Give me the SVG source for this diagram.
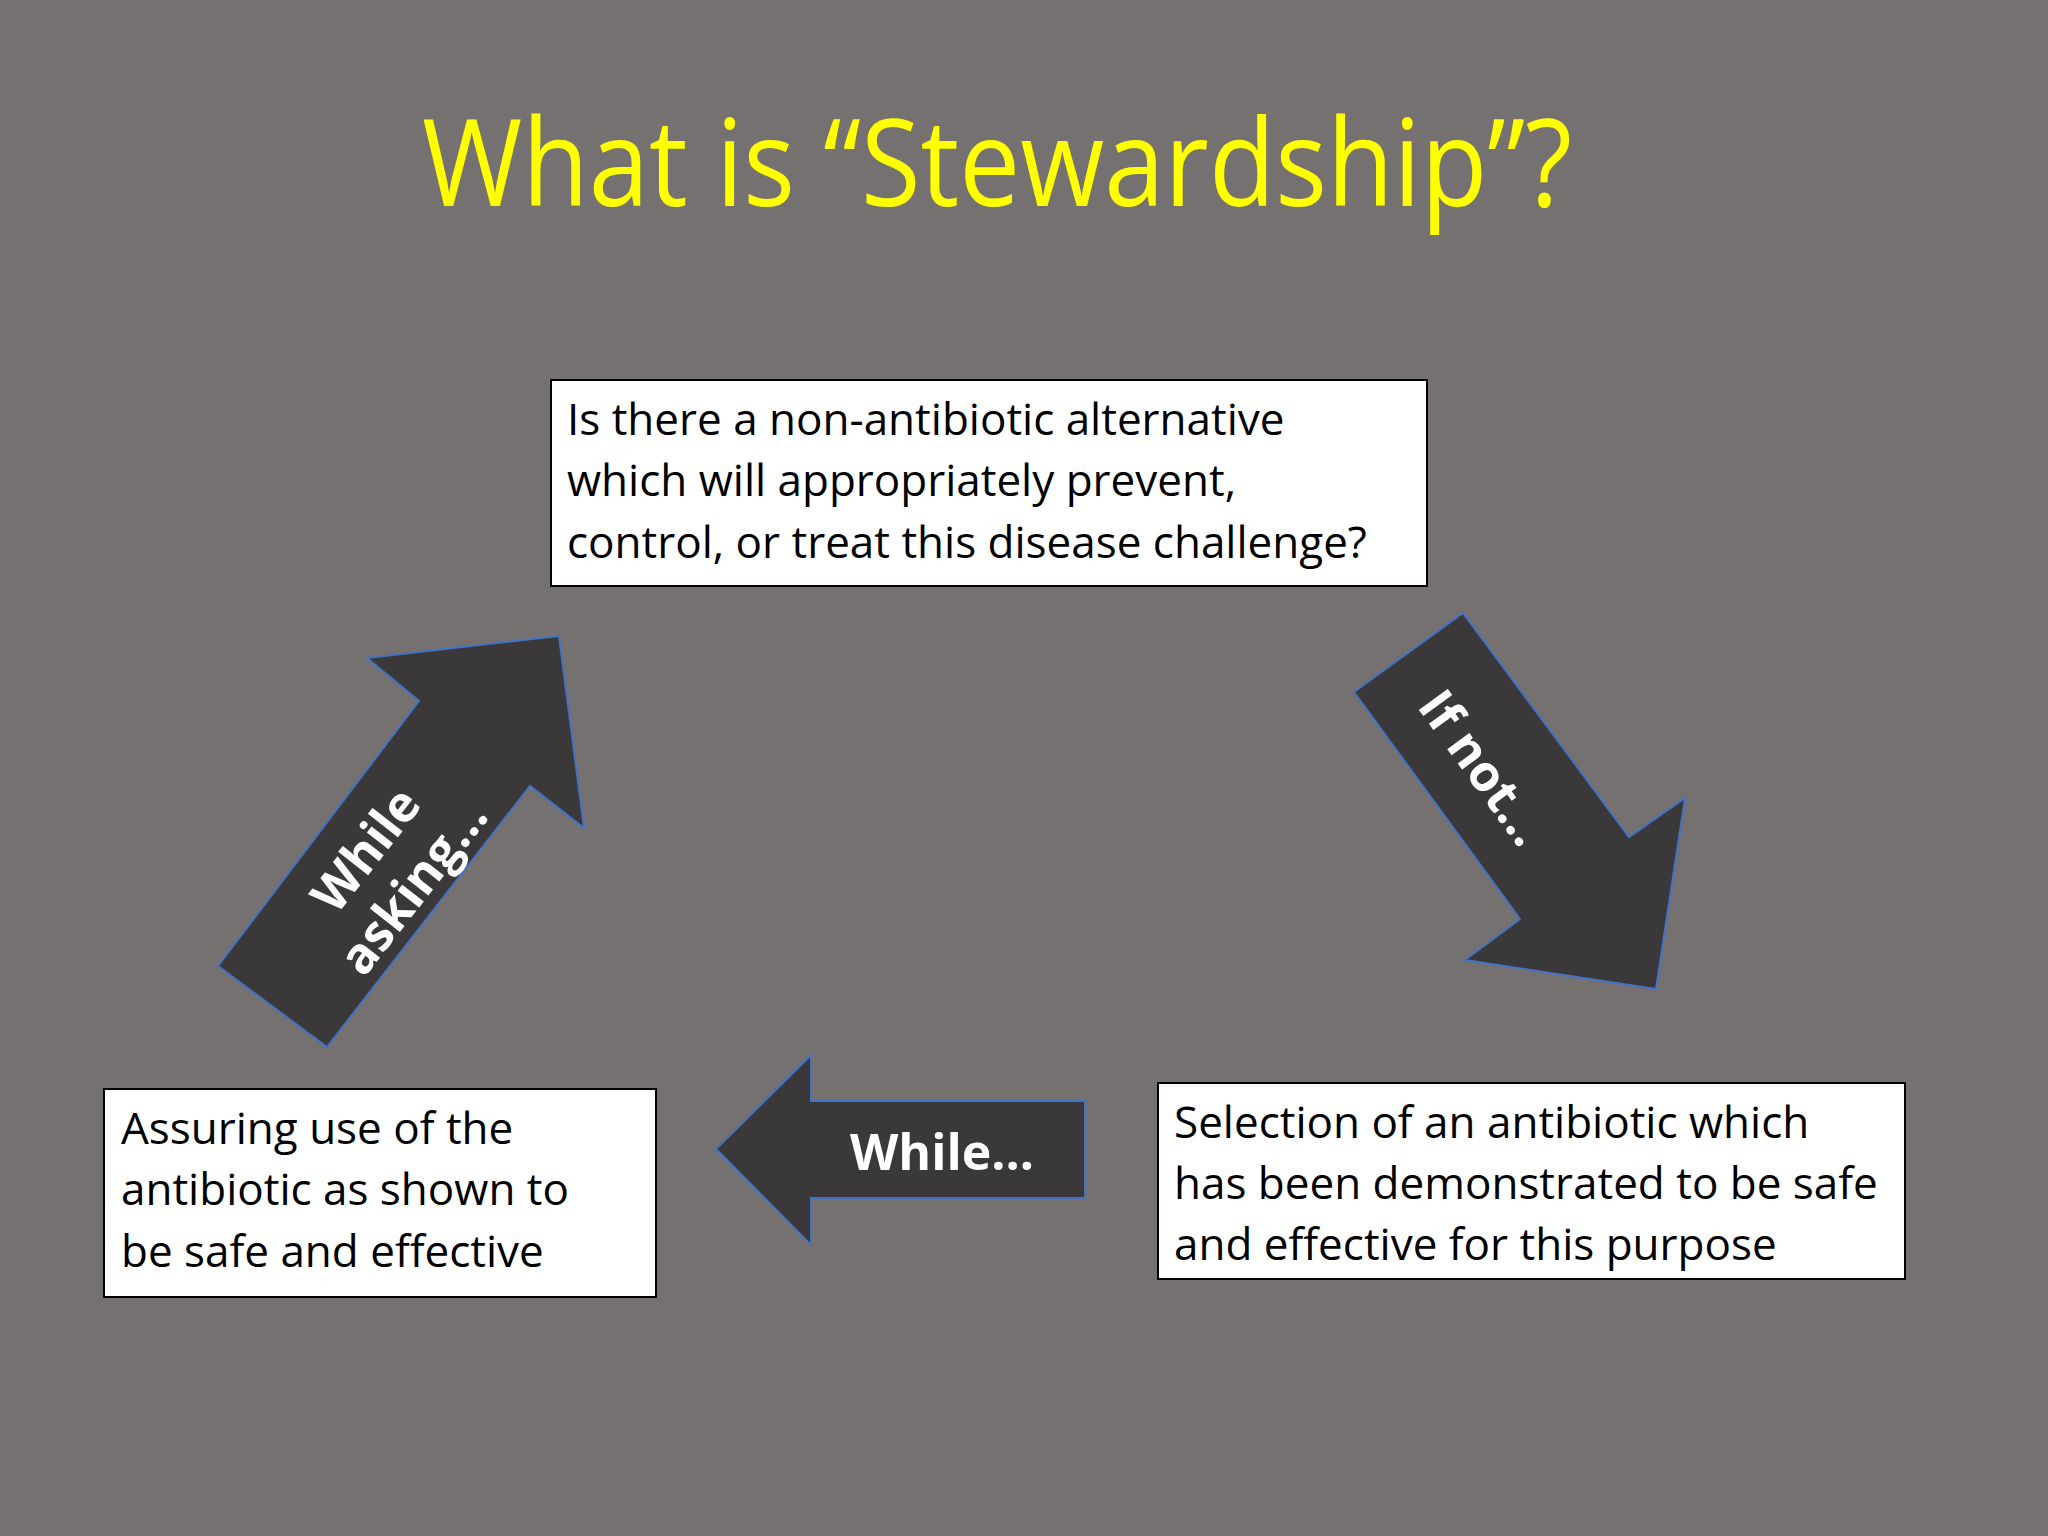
<svg xmlns="http://www.w3.org/2000/svg" width="2048" height="1536" viewBox="0 0 2048 1536">
<style>
.box{fill:#fff;stroke:#000;stroke-width:2}
.bt{font-family:"Open Sans","Liberation Sans",sans-serif;font-size:44px;fill:#000}
.arr{fill:#3a3838;stroke:#4472c4;stroke-width:2}
.at{font-family:"Open Sans","Liberation Sans",sans-serif;font-size:50px;font-weight:bold;fill:#fff;text-anchor:middle}
</style>
<rect width="2048" height="1536" fill="#757171"/>
<text x="997" y="206" font-family="Open Sans,Liberation Sans,sans-serif" font-size="120" fill="#ffff00" text-anchor="middle" textLength="1150" lengthAdjust="spacingAndGlyphs">What is “Stewardship”?</text>
<g id="connectors">
<g id="arrow-while"><polygon class="arr" points="716,1149 811,1055 811,1101 1085,1101 1085,1198 811,1198 811,1245"/><text class="at" x="942" y="1170">While…</text></g>
<g id="arrow-asking"><polygon class="arr" points="218,966 327,1047 530,786 584,828 559,636 367,658 419,701"/><text class="at" transform="translate(389,868) rotate(-52)"><tspan x="0" y="-12">While</tspan><tspan x="0" y="48">asking…</tspan></text></g>
<g id="arrow-ifnot"><polygon class="arr" points="1354,692 1463,613 1629,837 1685,798 1656,989 1465,960 1520,919"/><text class="at" transform="translate(1482,768) rotate(54)" y="17">If not…</text></g>
</g>
<g id="node-top"><rect class="box" x="551" y="380" width="876" height="206"/><text class="bt"><tspan x="567" y="435">Is there a non-antibiotic alternative</tspan><tspan x="567" y="496">which will appropriately prevent,</tspan><tspan x="567" y="558">control, or treat this disease challenge?</tspan></text></g>
<g id="node-left"><rect class="box" x="104" y="1089" width="552" height="208"/><text class="bt"><tspan x="121" y="1144">Assuring use of the</tspan><tspan x="121" y="1205">antibiotic as shown to</tspan><tspan x="121" y="1267">be safe and effective</tspan></text></g>
<g id="node-right"><rect class="box" x="1158" y="1083" width="747" height="196"/><text class="bt"><tspan x="1174" y="1138">Selection of an antibiotic which</tspan><tspan x="1174" y="1199">has been demonstrated to be safe</tspan><tspan x="1174" y="1260">and effective for this purpose</tspan></text></g>
</svg>
